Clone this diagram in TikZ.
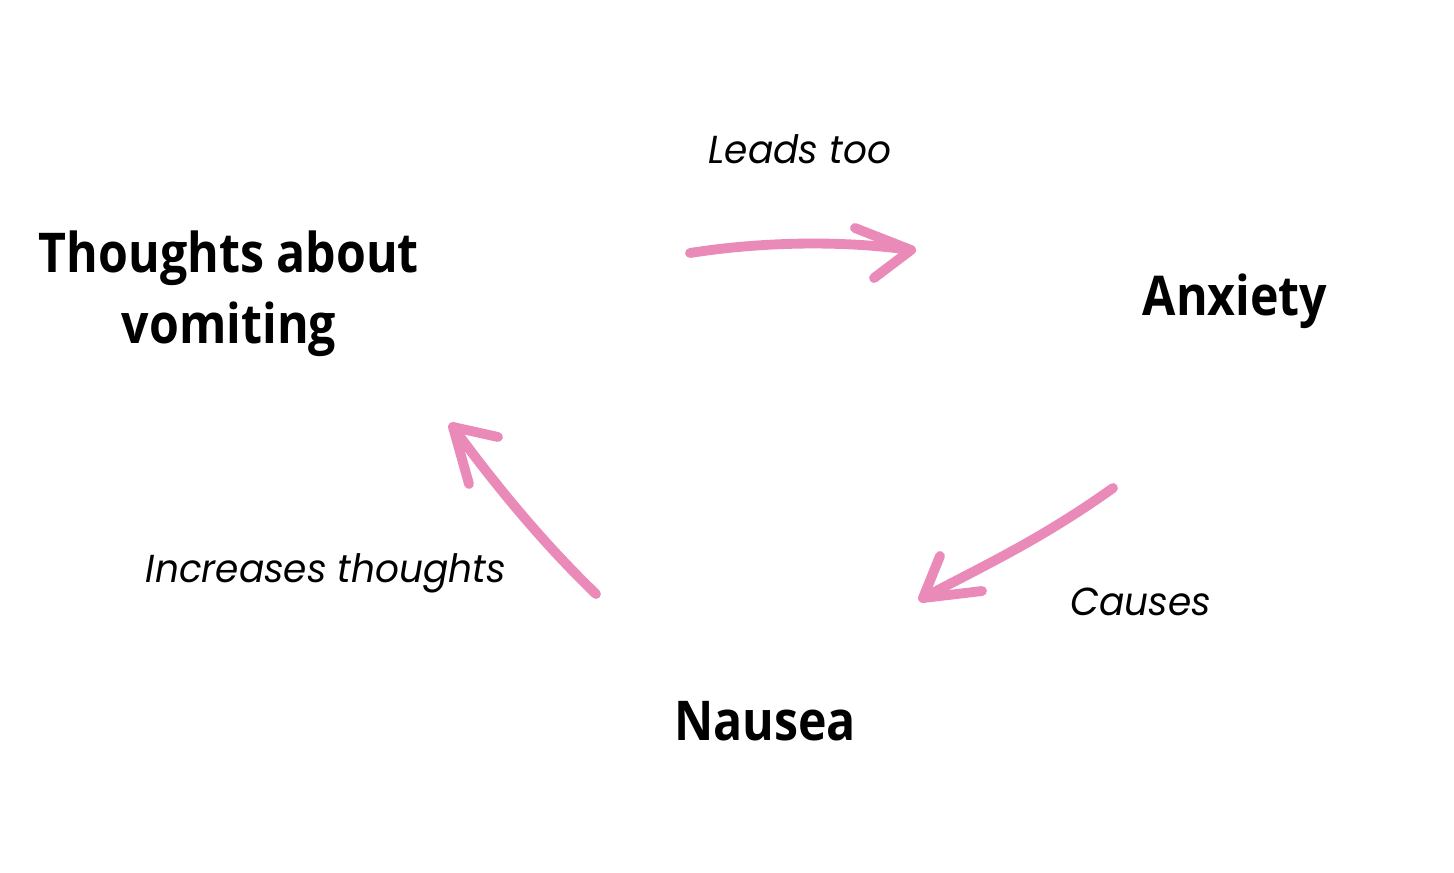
\documentclass[tikz,border=0pt]{standalone}
\usepackage{fontspec}
\setmainfont{Open Sans}[FakeStretch=0.88]
\newfontfamily\labelfont{Poppins}[FakeStretch=0.96]
\begin{document}
\begin{tikzpicture}[x=0.01cm,y=-0.01cm,
  concept/.style={font=\fontsize{15.6pt}{20pt}\selectfont\bfseries, anchor=base, inner sep=0pt, align=center},
  rel/.style={font=\labelfont\fontsize{11.1pt}{14pt}\selectfont\itshape, anchor=base, inner sep=0pt},
  pinkarrow/.style={draw=arrowpink, line width=2.8pt, line cap=round, line join=round}]
\definecolor{arrowpink}{RGB}{234,138,184}
\useasboundingbox (0,0) rectangle (1454,872);
% concepts
\node[concept] (thoughts) at (229,272) {Thoughts about};
\node[concept] (vomiting) at (229,343) {vomiting};
\node[concept] (anxiety) at (1235,315) {Anxiety};
\node[concept] (nausea) at (765,740) {Nausea};
% relation labels
\node[rel] (leads) at (800,163) {Leads too};
\node[rel] (causes) at (1141,615) {Causes};
\node[rel] (increases) at (326,582) {Increases thoughts};
% arrow end points
\coordinate (a1s) at (690,253);
\coordinate (a1e) at (911,250);
\coordinate (a1u) at (855,228);
\coordinate (a1d) at (874,278);
\coordinate (a2s) at (1113,488);
\coordinate (a2e) at (923,598);
\coordinate (a2u) at (940,556);
\coordinate (a2d) at (982,591);
\coordinate (a3s) at (596,594);
\coordinate (a3e) at (453,427);
\coordinate (a3u) at (469,484);
\coordinate (a3d) at (498,437);
% arrows
\draw[pinkarrow] (a1s) .. controls (760,242) and (840,240) .. (a1e);
\draw[pinkarrow] (a1u) -- (a1e) -- (a1d);
\draw[pinkarrow] (a2s) .. controls (1040,540) and (985,565) .. (a2e);
\draw[pinkarrow] (a2u) -- (a2e) -- (a2d);
\draw[pinkarrow] (a3s) .. controls (545,545) and (495,485) .. (a3e);
\draw[pinkarrow] (a3u) -- (a3e) -- (a3d);
\end{tikzpicture}
\end{document}
